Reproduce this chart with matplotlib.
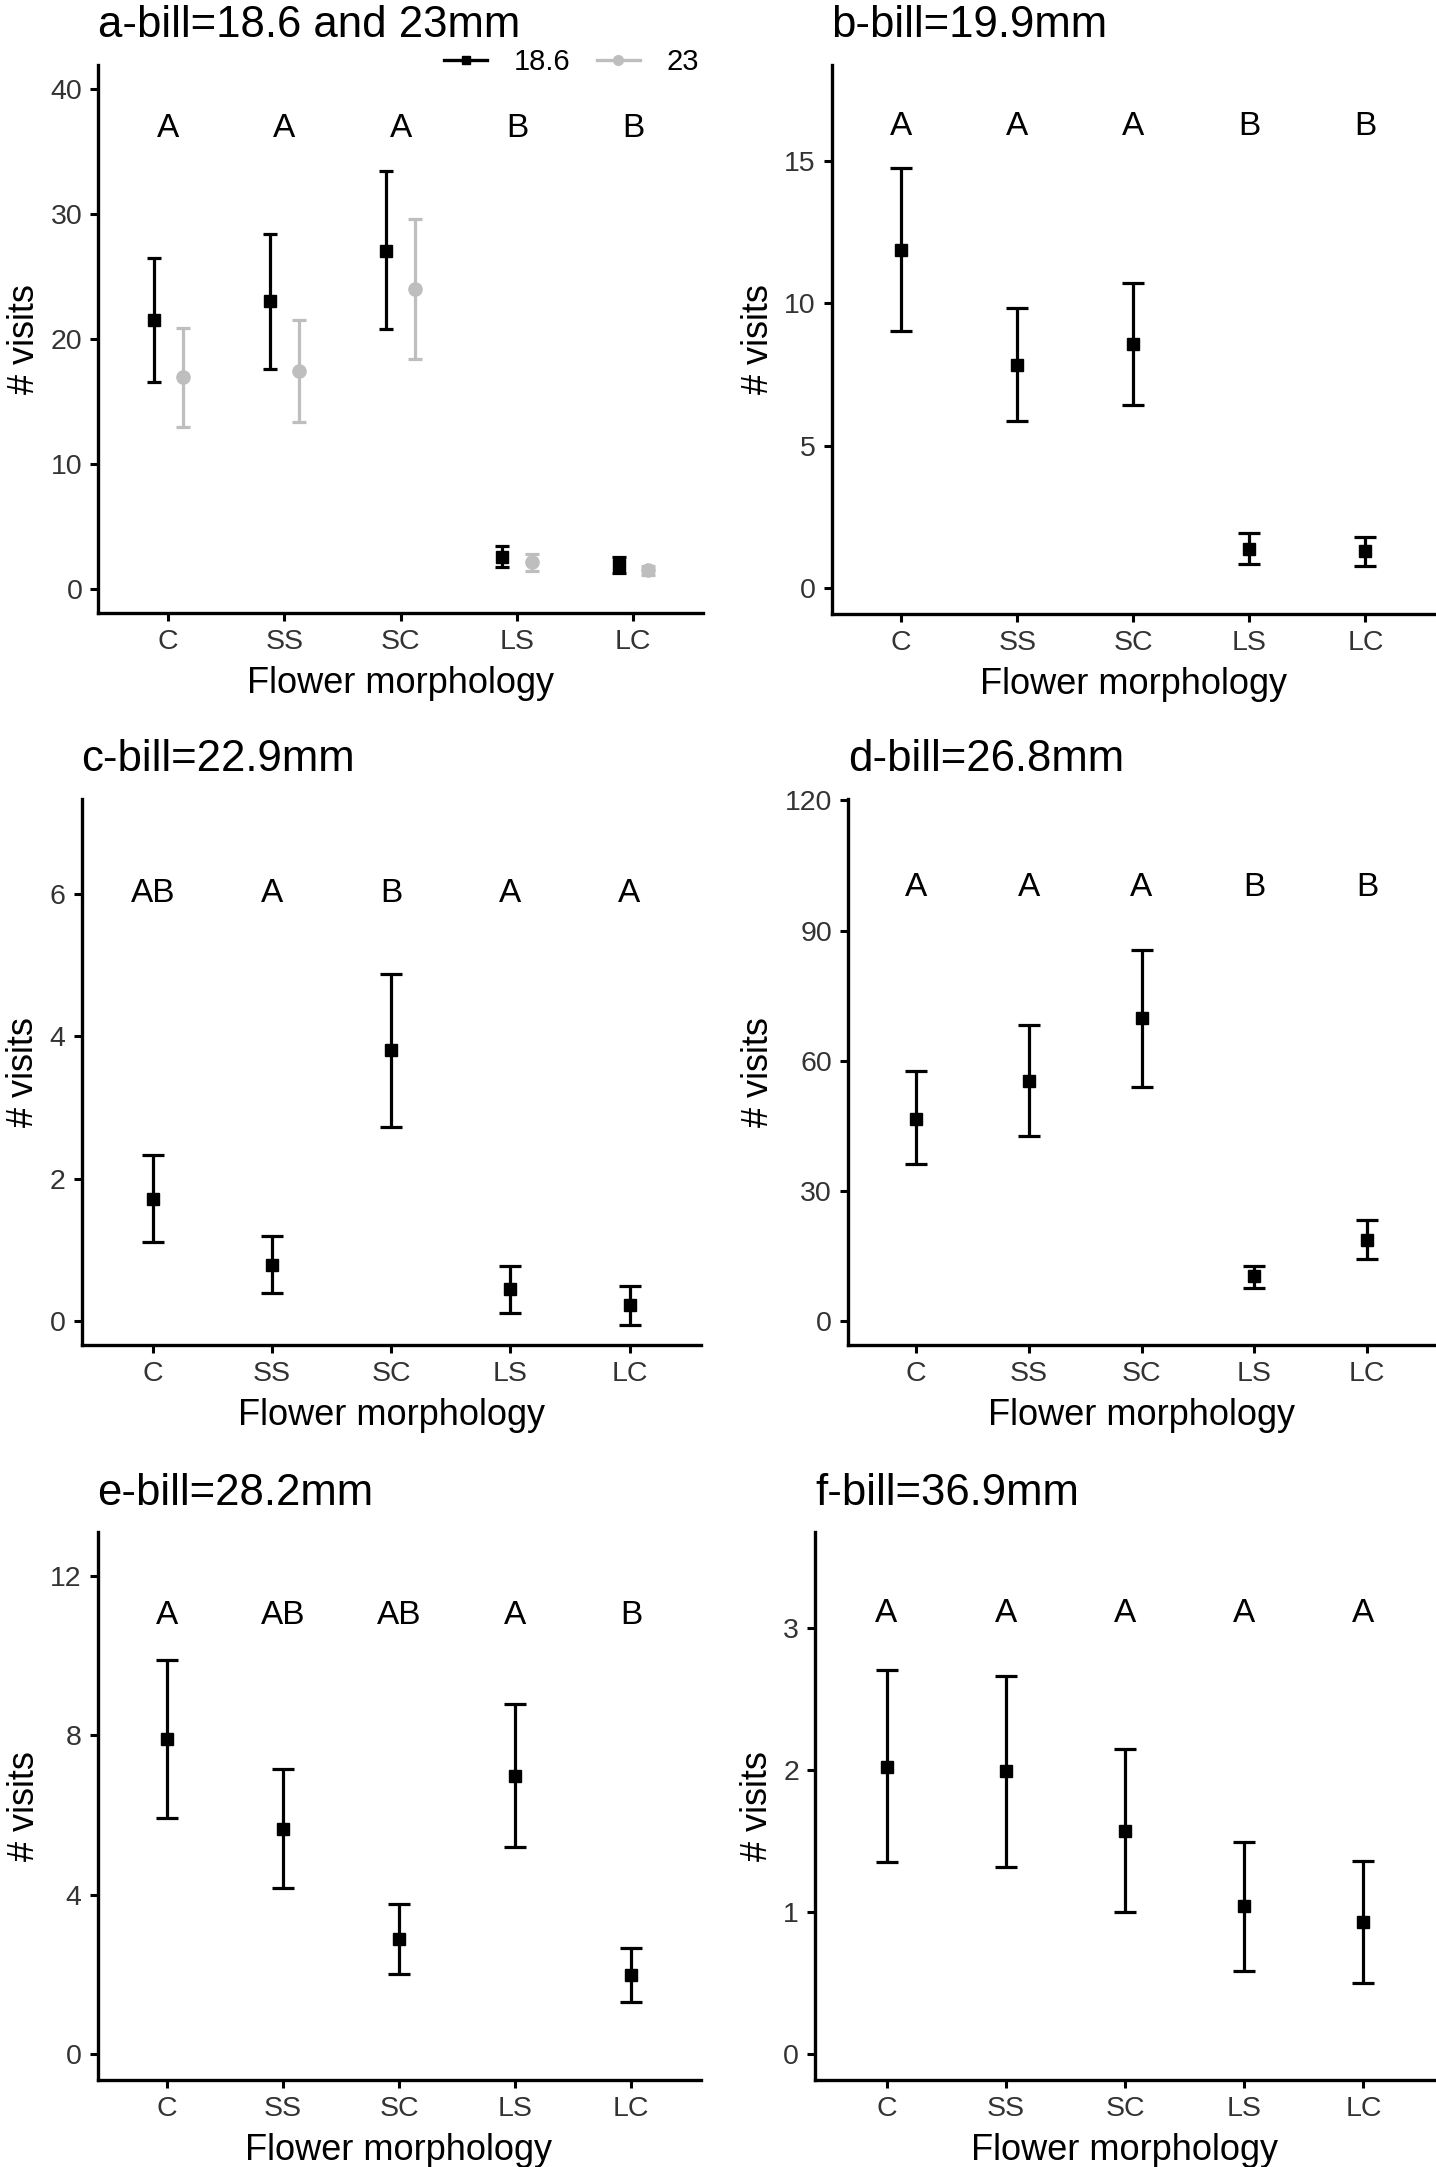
import numpy as np
import matplotlib
matplotlib.use('Agg')
import matplotlib.pyplot as plt
from matplotlib.lines import Line2D

plt.rcParams['font.family'] = ['Liberation Sans', 'DejaVu Sans']

W, H = 1436, 2167

morph = ['C', 'SS', 'SC', 'LS', 'LC']

# panel a: two bill lengths
a_186_mean = [21.5, 23.0, 27.0, 2.5, 1.9]
a_186_low = [16.5, 17.6, 20.8, 1.7, 1.25]
a_186_high = [26.5, 28.4, 33.4, 3.4, 2.5]
a_23_mean = [16.9, 17.4, 24.0, 2.1, 1.45]
a_23_low = [12.9, 13.3, 18.4, 1.4, 1.1]
a_23_high = [20.9, 21.5, 29.6, 2.8, 1.8]
a_letters = ['A', 'A', 'A', 'B', 'B']

b_mean = [11.87, 7.84, 8.56, 1.39, 1.30]
b_low = [9.02, 5.89, 6.43, 0.86, 0.78]
b_high = [14.75, 9.83, 10.71, 1.93, 1.82]
b_letters = ['A', 'A', 'A', 'B', 'B']

c_mean = [1.72, 0.79, 3.80, 0.45, 0.22]
c_low = [1.11, 0.39, 2.73, 0.12, -0.06]
c_high = [2.33, 1.19, 4.87, 0.77, 0.49]
c_letters = ['AB', 'A', 'B', 'A', 'A']

d_mean = [46.6, 55.4, 69.8, 10.3, 18.7]
d_low = [36.2, 42.7, 53.9, 7.7, 14.3]
d_high = [57.6, 68.2, 85.6, 12.7, 23.2]
d_letters = ['A', 'A', 'A', 'B', 'B']

e_mean = [7.91, 5.64, 2.89, 6.99, 1.99]
e_low = [5.94, 4.17, 2.02, 5.20, 1.32]
e_high = [9.88, 7.16, 3.77, 8.79, 2.68]
e_letters = ['A', 'AB', 'AB', 'A', 'B']

f_mean = [2.02, 1.99, 1.57, 1.04, 0.93]
f_low = [1.35, 1.32, 1.00, 0.585, 0.50]
f_high = [2.70, 2.66, 2.15, 1.49, 1.36]
f_letters = ['A', 'A', 'A', 'A', 'A']

TICK_COL = '#333333'
GREY = '#bebebe'


def make_axes(fig, box, title, yticks, ylim, letters, letter_y):
    left, top, right, bottom = box
    ax = fig.add_axes([left / W, 1 - bottom / H, (right - left) / W, (bottom - top) / H])
    for s in ['top', 'right']:
        ax.spines[s].set_visible(False)
    for s in ['left', 'bottom']:
        ax.spines[s].set_linewidth(2.4)
    ax.set_xlim(-0.6, 4.6)
    ax.set_ylim(*ylim)
    ax.set_xticks(range(len(morph)))
    ax.set_xticklabels(morph)
    ax.set_yticks(yticks)
    ax.tick_params(length=5.5, width=2.2, labelsize=20.5, labelcolor=TICK_COL, pad=6)
    ax.set_xlabel('Flower morphology', fontsize=26, labelpad=8)
    ax.set_ylabel('# visits', fontsize=26, labelpad=6)
    ax.set_title(title, loc='left', fontsize=31.5, pad=20)
    for i, lab in enumerate(letters):
        ax.text(i, letter_y, lab, ha='center', va='center', fontsize=24)
    return ax


def draw_points(ax, x, mean, low, high, color='black', marker='s', ms=8.8, cap=8, lw=2.3):
    mean = np.array(mean)
    yerr = [mean - np.array(low), np.array(high) - mean]
    ax.errorbar(x, mean, yerr=yerr, fmt=marker, color=color, ms=ms,
                elinewidth=lw, capsize=cap, capthick=lw)


fig = plt.figure(figsize=(W / 100, H / 100), dpi=100)
x = np.arange(len(morph))

ax = make_axes(fig, (98.4, 65, 703, 613), 'a-bill=18.6 and 23mm',
               [0, 10, 20, 30, 40], (-1.96, 41.92), a_letters, 36.8)
draw_points(ax, x - 0.125, a_186_mean, a_186_low, a_186_high, ms=8.5, cap=5)
draw_points(ax, x + 0.125, a_23_mean, a_23_low, a_23_high, color=GREY, marker='o', ms=9.5, cap=5)
handles = [Line2D([0], [0], color='black', marker='s', ms=6, lw=2.4),
           Line2D([0], [0], color=GREY, marker='o', ms=7, lw=2.4)]
fig.legend(handles, ['18.6', '23'], loc='center right', bbox_to_anchor=(699 / W, 1 - 62.5 / H),
           ncol=2, frameon=False, fontsize=21, borderpad=0, borderaxespad=0,
           handlelength=1.5, handletextpad=0.9, columnspacing=0.9)

ax = make_axes(fig, (831.6, 64.7, 1435, 613.8), 'b-bill=19.9mm',
               [0, 5, 10, 15], (-0.89, 18.37), b_letters, 16.2)
draw_points(ax, x, b_mean, b_low, b_high)

ax = make_axes(fig, (81.5, 799, 701, 1345), 'c-bill=22.9mm',
               [0, 2, 4, 6], (-0.335, 7.33), c_letters, 6)
draw_points(ax, x, c_mean, c_low, c_high)

ax = make_axes(fig, (848, 799, 1435, 1345), 'd-bill=26.8mm',
               [0, 30, 60, 90, 120], (-5.5, 120.3), d_letters, 100)
draw_points(ax, x, d_mean, d_low, d_high)

ax = make_axes(fig, (97.5, 1532.3, 700.5, 2080), 'e-bill=28.2mm',
               [0, 4, 8, 12], (-0.64, 13.09), e_letters, 11)
draw_points(ax, x, e_mean, e_low, e_high)

ax = make_axes(fig, (815, 1532.3, 1435, 2080), 'f-bill=36.9mm',
               [0, 1, 2, 3], (-0.18, 3.67), f_letters, 3.1)
draw_points(ax, x, f_mean, f_low, f_high)

fig.savefig('out.png', dpi=100)
